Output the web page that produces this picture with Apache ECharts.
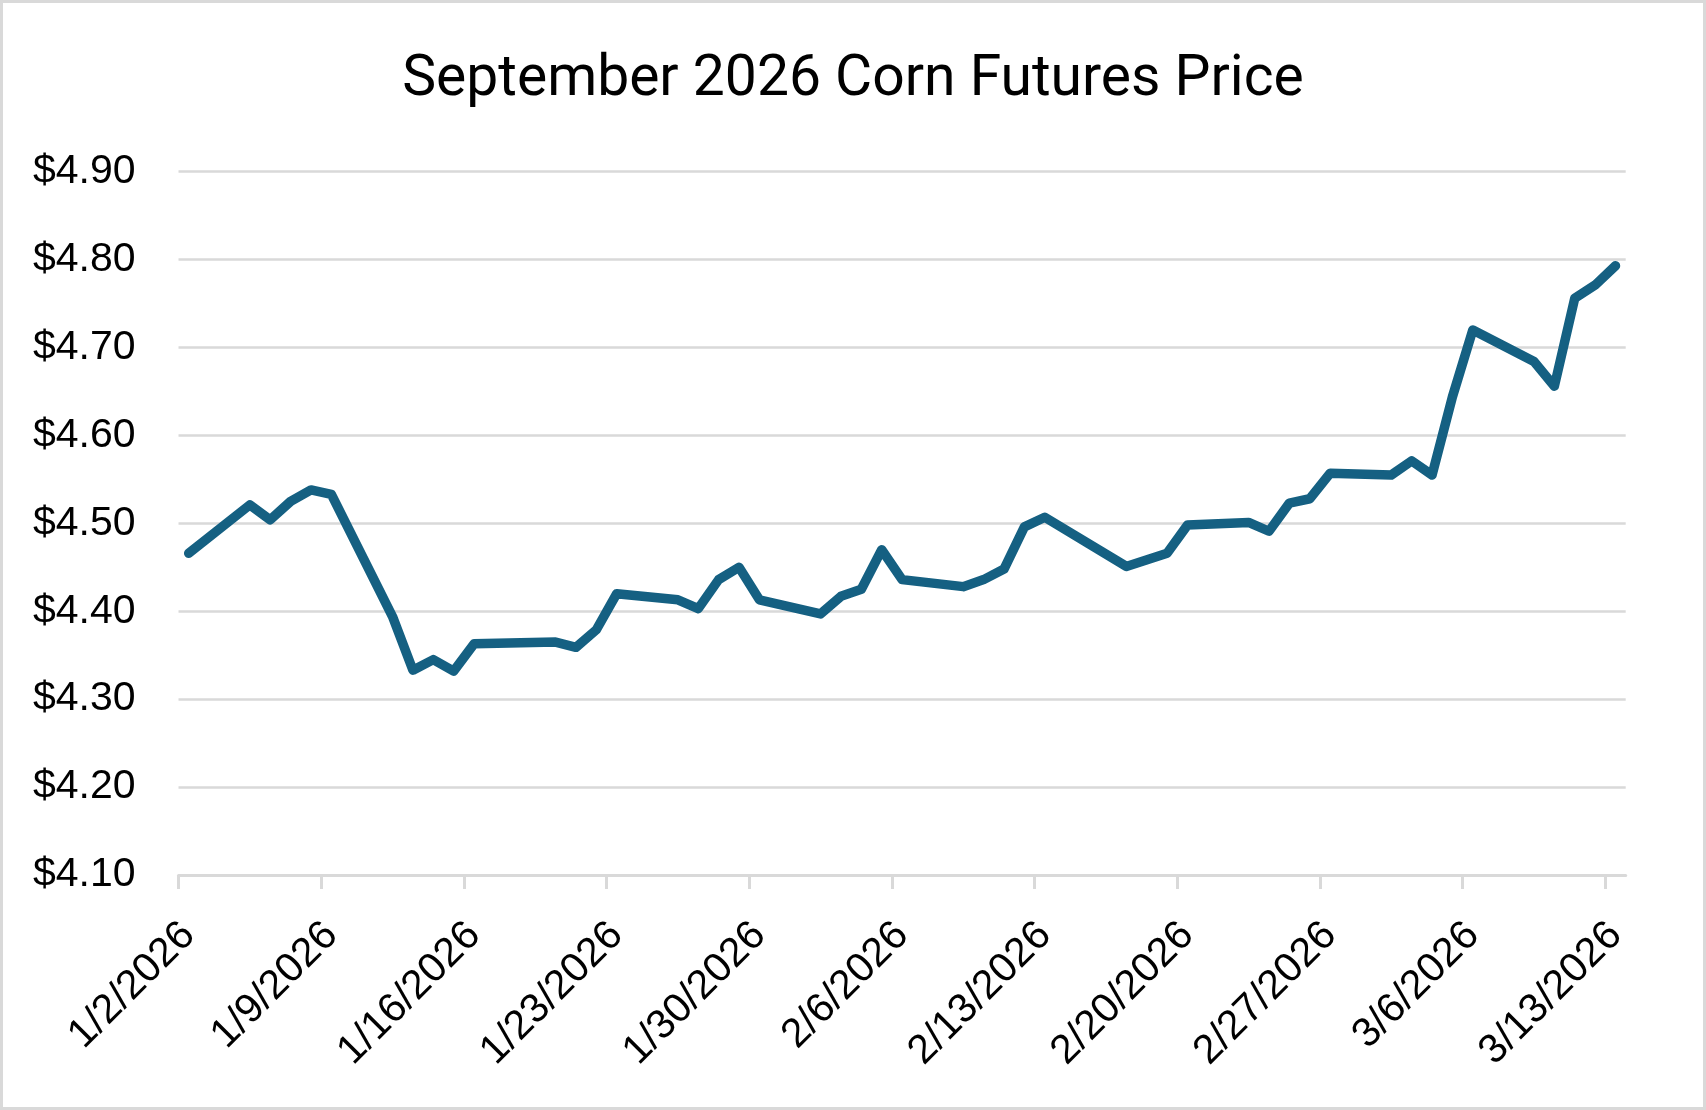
<!DOCTYPE html>
<html>
<head>
<meta charset="utf-8">
<script src="https://cdn.jsdelivr.net/npm/echarts@6/dist/echarts.min.js"></script>
<style>
html,body{margin:0;padding:0;background:#fff;}
#chart{width:1706px;height:1110px;position:absolute;left:0;top:0;}
#frame{position:absolute;left:0;top:0;width:1706px;height:1110px;box-sizing:border-box;border:3px solid #d9d9d9;pointer-events:none;}
</style>
</head>
<body>
<div id="chart"></div>
<div id="frame"></div>
<script>
// ---- data ----
const title = 'September 2026 Corn Futures Price';
const dates = [
  '2026-01-02','2026-01-05','2026-01-06','2026-01-07','2026-01-08','2026-01-09',
  '2026-01-12','2026-01-13','2026-01-14','2026-01-15','2026-01-16',
  '2026-01-20','2026-01-21','2026-01-22','2026-01-23',
  '2026-01-26','2026-01-27','2026-01-28','2026-01-29','2026-01-30',
  '2026-02-02','2026-02-03','2026-02-04','2026-02-05','2026-02-06',
  '2026-02-09','2026-02-10','2026-02-11','2026-02-12','2026-02-13',
  '2026-02-17','2026-02-19','2026-02-20',
  '2026-02-23','2026-02-24','2026-02-25','2026-02-26','2026-02-27',
  '2026-03-02','2026-03-03','2026-03-04','2026-03-05','2026-03-06',
  '2026-03-09','2026-03-10','2026-03-11','2026-03-12','2026-03-13'
];
const prices = [
  4.466,4.521,4.504,4.525,4.538,4.533,
  4.394,4.333,4.345,4.332,4.363,
  4.365,4.359,4.379,4.420,
  4.413,4.403,4.436,4.450,4.413,
  4.397,4.417,4.425,4.470,4.436,
  4.428,4.436,4.448,4.496,4.507,
  4.451,4.466,4.498,
  4.501,4.491,4.523,4.528,4.557,
  4.555,4.571,4.555,4.644,4.720,
  4.684,4.656,4.756,4.771,4.793
];
const tickLabels = ['1/2/2026','1/9/2026','1/16/2026','1/23/2026','1/30/2026','2/6/2026',
  '2/13/2026','2/20/2026','2/27/2026','3/6/2026','3/13/2026'];
const yMin = 4.10, yMax = 4.90, yStep = 0.10;

// ---- build ----
const DAY = 86400000;
const start = Date.UTC(2026, 0, 2);
function dayIndex(s){ const p = s.split('-').map(Number); return (Date.UTC(p[0], p[1]-1, p[2]) - start) / DAY; }
// each day occupies one slot; points and labels sit at the slot centre, ticks at slot edges
const seriesData = dates.map((d, i) => [dayIndex(d) + 0.5, prices[i]]);
const tickValues = tickLabels.map((_, i) => i * 7);
const labelValues = tickValues.map(v => v + 0.5);
const xMax = tickValues[tickValues.length - 1] + 1;

const labelFont = '"Liberation Sans", Arial, sans-serif';
const chart = echarts.init(document.getElementById('chart'), null, {renderer: 'canvas'});
chart.setOption({
  animation: false,
  backgroundColor: '#ffffff',
  title: {
    text: title,
    left: 'center',
    top: 47,
    textStyle: {fontFamily: 'Roboto, sans-serif', fontSize: 57, fontWeight: 'normal', color: '#000000'}
  },
  grid: {left: 178.5, right: 80.3, top: 171.7, bottom: 235, containLabel: false},
  xAxis: {
    type: 'value',
    min: 0,
    max: xMax,
    splitLine: {show: false},
    axisLine: {show: true, lineStyle: {color: '#d9d9d9', width: 3}},
    axisTick: {show: true, length: 14, lineStyle: {color: '#d9d9d9', width: 3}, customValues: tickValues},
    axisLabel: {
      customValues: labelValues,
      rotate: 45,
      margin: 54,
      fontFamily: labelFont,
      fontSize: 41,
      color: '#000000',
      formatter: function (v) { const i = Math.round((v - 0.5) / 7); return tickLabels[i] || ''; }
    }
  },
  yAxis: {
    type: 'value',
    min: yMin,
    max: yMax,
    interval: yStep,
    axisLine: {show: false},
    axisTick: {show: false},
    splitLine: {show: true, lineStyle: {color: '#d9d9d9', width: 2.6}},
    axisLabel: {
      margin: 43,
      fontFamily: labelFont,
      fontSize: 41,
      color: '#000000',
      formatter: function (v) { return '$' + v.toFixed(2); }
    }
  },
  series: [{
    type: 'line',
    data: seriesData,
    showSymbol: false,
    lineStyle: {color: '#156082', width: 9.5, cap: 'round', join: 'round'},
    itemStyle: {color: '#156082'}
  }]
});
</script>
</body>
</html>
